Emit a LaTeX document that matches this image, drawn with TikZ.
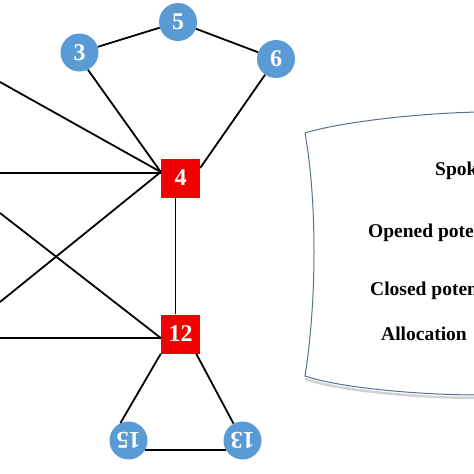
\documentclass[tikz,border=0pt]{standalone}
\usepackage{fontspec}
\setmainfont{Liberation Serif}
\usepackage{tikz}
\usetikzlibrary{positioning}

\definecolor{spokeblue}{RGB}{91,155,213}
\definecolor{hubred}{RGB}{240,0,0}
\definecolor{framegray}{RGB}{88,112,146}

\tikzset{
  spoke/.style={circle, fill=spokeblue, minimum size=38pt, inner sep=0pt,
    text=white, font=\fontsize{24}{28}\selectfont\bfseries},
  hub/.style={rectangle, fill=hubred, minimum size=39pt, inner sep=0pt,
    text=white, font=\fontsize{24}{28}\selectfont\bfseries},
  link/.style={line width=1.8pt, black},
  legendtext/.style={anchor=base west, inner sep=0pt,
    font=\fontsize{19.5}{23}\selectfont\bfseries}
}

\begin{document}
\begin{tikzpicture}[x=1pt, y=-1pt]
\useasboundingbox (0,0) rectangle (474,474);
\clip (0,0) rectangle (474,474);

% Spoke nodes
\node[spoke] (n5) at (178,22) {5};
\node[spoke] (n3) at (79.5,52.5) {3};
\node[spoke] (n6) at (276,59) {6};
\node[spoke] (n15) at (128.5,440.5) {\rotatebox{180}{15}};
\node[spoke] (n13) at (242.5,440.5) {\rotatebox{180}{13}};

% Opened hubs
\node[hub] (n4) at (180.5,178) {4};
\node[hub] (n12) at (180.5,334) {12};

% Meeting points on the hubs and free ends at the left border
\coordinate (h4) at ([yshift=6pt]n4.west);
\coordinate (h12) at ([yshift=-4pt]n12.west);
\coordinate (l1) at (0,82);
\coordinate (l2) at (0,173);
\coordinate (l3) at (0,213);
\coordinate (l4) at (0,302);
\coordinate (l5) at (0,338);

% Links of the upper cycle
\draw[link] (n3) -- (n5);
\draw[link] (n5) -- (n6);
\draw[link] (n3.-64) -- (h4);
\draw[link] (n6) -- ([yshift=10pt]n4.east);

% Links coming from the left
\draw[link] (l1) -- (h4);
\draw[link] (l2) -- (l2 -| n4.west);
\draw[link] (l4) -- (h4);
\draw[link] (l3) -- (h12);
\draw[link] (l5) -- (l5 -| n12.west);

% Hub to hub
\draw[link] ([xshift=-5pt]n4.south) -- ([xshift=-5pt]n12.north);

% Lower cycle
\draw[link] (n12.south west) -- (n15.115);
\draw[link] ([xshift=-4pt]n12.south east) -- (n13.118);
\draw[link] (n15.-30) -- (n13.-150);

% Legend frame
\draw[gray!35, line width=2.5pt] (305,379) .. controls (340,391) and (420,398) .. (480,398);
\draw[framegray, line width=1pt] (480,112) .. controls (420,113) and (340,122) .. (305,133)
  .. controls (317,200) and (317,300) .. (305,376)
  .. controls (340,388) and (420,395) .. (480,395);

% Legend entries
\node[legendtext] (spk) at (435,175) {Spoke};
\node[legendtext] (opn) at (368,237) {Opened potential};
\node[legendtext] (cls) at (370,295) {Closed potential};
\node[legendtext] (alc) at (381,340) {Allocation};

\end{tikzpicture}
\end{document}
